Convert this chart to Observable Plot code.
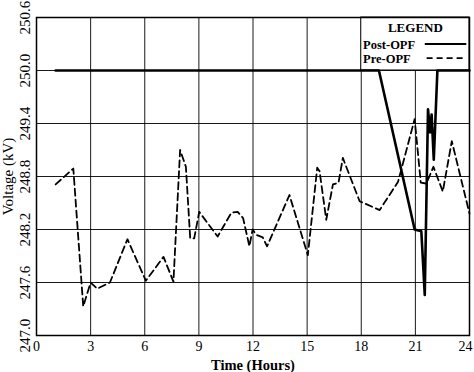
<!DOCTYPE html>
<html>
<head>
<meta charset="utf-8">
<script src="https://cdn.jsdelivr.net/npm/d3@7"></script>
<script src="https://cdn.jsdelivr.net/npm/@observablehq/plot@0.6"></script>
<style>
  html, body { margin: 0; padding: 0; background: #fff; }
  svg { display: block; }
</style>
</head>
<body>
<div id="chart"></div>
<script>
const xTicks = [0, 3, 6, 9, 12, 15, 18, 21, 24];
const yTicks = [247.0, 247.6, 248.2, 248.8, 249.4, 250.0, 250.6];

const postX = [1.06, 18.98, 20.96, 21.33, 21.52, 21.7, 21.82, 21.9, 22.02, 22.22, 24.0];
const postY = [250.0, 250.0, 248.2, 248.18, 247.46, 249.56, 249.3, 249.5, 248.99, 250.0, 250.0];

const preX = [1.06, 2.04, 2.59, 3.0, 3.37, 4.07, 5.04, 6.06, 7.04, 7.59, 7.96, 8.28, 8.52, 8.74, 9.02, 10.04, 10.8, 11.15, 11.45, 11.8, 11.98, 12.17, 12.54, 12.78, 14.02, 15.04, 15.56, 15.69, 16.06, 16.43, 16.74, 16.98, 17.91, 19.02, 20.04, 20.96, 21.3, 21.61, 22.0, 22.52, 23.02, 24.0];
const preY = [248.71, 248.89, 247.33, 247.6, 247.53, 247.6, 248.09, 247.62, 247.89, 247.61, 249.10, 248.91, 248.10, 248.10, 248.40, 248.12, 248.39, 248.40, 248.33, 248.01, 248.20, 248.14, 248.11, 248.01, 248.59, 247.91, 248.90, 248.86, 248.31, 248.71, 248.73, 249.01, 248.52, 248.42, 248.74, 249.45, 248.73, 248.72, 248.91, 248.63, 249.2, 248.38];

const legendTitle = "LEGEND";
const seriesNames = ["Post-OPF", "Pre-OPF"];

const post = postX.map((x, i) => ({x, y: postY[i]}));
const pre = preX.map((x, i) => ({x, y: preY[i]}));

const serif = "'Liberation Serif', 'DejaVu Serif', serif";
const lastTick = xTicks[xTicks.length - 1];

const plot = Plot.plot({
  width: 474,
  height: 372,
  marginLeft: 36,
  marginRight: 5,
  marginTop: 17,
  marginBottom: 37,
  style: {fontFamily: serif, background: "#fff", color: "#000"},
  x: {domain: [0, 24], axis: null},
  y: {domain: [247.0, 250.6], axis: null},
  marks: [
    Plot.gridX(xTicks, {stroke: "#000", strokeOpacity: 1, strokeWidth: 0.9}),
    Plot.gridY(yTicks, {stroke: "#000", strokeOpacity: 1, strokeWidth: 0.9}),
    // legend box
    Plot.rect([0], {x1: () => 18, x2: () => 24, y1: () => 250.0, y2: () => 250.6, fill: "#fff", stroke: "#000", strokeWidth: 1}),
    Plot.text([legendTitle], {x: () => 21.0, y: () => 250.48, text: d => d, fontSize: 13, fontWeight: "bold", textAnchor: "middle"}),
    Plot.text(seriesNames, {x: () => 18.1, y: (d, i) => [250.285, 250.135][i], text: d => d, fontSize: 12.5, fontWeight: "bold", textAnchor: "start"}),
    Plot.ruleY([250.30], {x1: 21.55, x2: 23.85, stroke: "#000", strokeWidth: 2}),
    Plot.ruleY([250.14], {x1: 21.65, x2: 23.85, stroke: "#000", strokeWidth: 1.6, strokeDasharray: "6,4"}),
    Plot.frame({stroke: "#000", strokeWidth: 1.5}),
    Plot.line(pre, {x: "x", y: "y", stroke: "#000", strokeWidth: 1.8, strokeDasharray: "7,4"}),
    Plot.line(post, {x: "x", y: "y", stroke: "#000", strokeWidth: 2.6}),
    Plot.text(xTicks.filter(d => d !== lastTick), {x: d => d, frameAnchor: "bottom", dy: 15, text: d => String(d), fontSize: 14, textAnchor: "middle"}),
    Plot.text([lastTick], {x: d => d, frameAnchor: "bottom", dy: 15, dx: 3, text: d => String(d), fontSize: 14, textAnchor: "end"}),
    Plot.text(["Time (Hours)"], {frameAnchor: "bottom", dy: 34, text: d => d, fontSize: 14.5, fontWeight: "bold"}),
    Plot.text(yTicks, {y: d => d, frameAnchor: "left", dx: -11, rotate: -90, text: d => d.toFixed(1), fontSize: 15, textAnchor: "middle"}),
    Plot.text(["Voltage (kV)"], {frameAnchor: "left", dx: -28, rotate: -90, text: d => d, fontSize: 15, textAnchor: "middle"})
  ]
});
document.getElementById("chart").appendChild(plot);
</script>
</body>
</html>
